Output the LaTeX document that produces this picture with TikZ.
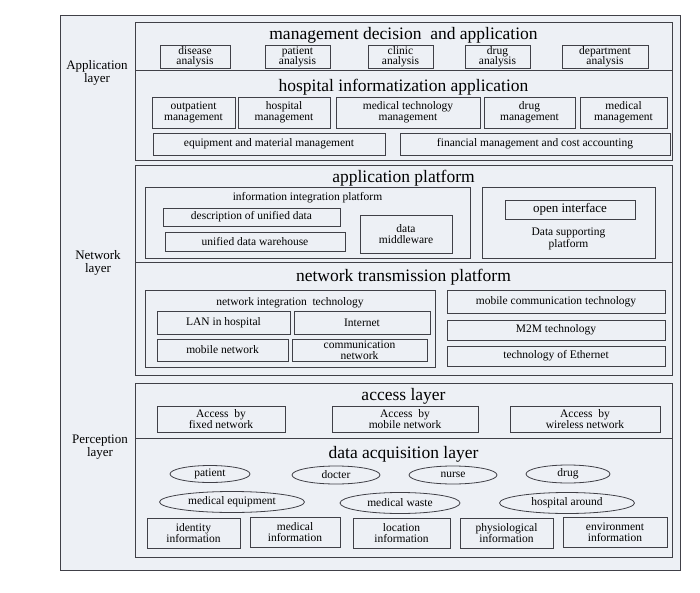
\documentclass[tikz,border=0pt]{standalone}
\usepackage{fontspec}
\setmainfont{Liberation Serif}
\usetikzlibrary{shapes.geometric, positioning, fit}
\definecolor{panelbg}{rgb}{0.93,0.94,0.96}
\definecolor{edgegray}{rgb}{0.25,0.25,0.28}

\begin{document}
\begin{tikzpicture}[x=1pt, y=-1pt,
    box/.style={rectangle, draw=edgegray, thick, inner sep=0pt, align=center, font=\fontsize{11.5}{10.5}\selectfont},
    oval/.style={ellipse, draw=edgegray, thick, inner sep=0pt, font=\fontsize{11.5}{11}\selectfont},
    band/.style={rectangle, draw=edgegray, thick, inner sep=0pt},
    title/.style={font=\fontsize{17.5}{17}\selectfont},
    sub/.style={font=\fontsize{11.5}{12}\selectfont},
    side/.style={align=center, font=\fontsize{13}{13}\selectfont}
]
\useasboundingbox (0,0) rectangle (700,593);
\draw[edgegray, fill=panelbg] (60,15) rectangle (680,570);

% application layer
\node[band, minimum width=537, minimum height=48] (mda) at (403.5,46) {};
\node[band, minimum width=537, minimum height=90] (hia) at (403.5,115) {};
\node[title] at (403.5,35) {management decision\ \ and application};
\node[box, minimum width=70, minimum height=23] (dis) at (195,57) {disease\\analysis};
\node[box, minimum width=65, minimum height=23] (pat) at (297.5,57) {patient\\analysis};
\node[box, minimum width=65, minimum height=23] (cli) at (400.5,57) {clinic\\analysis};
\node[box, minimum width=65, minimum height=23] (dru) at (497.5,57) {drug\\analysis};
\node[box, minimum width=86, minimum height=23] (dep) at (605,57) {department\\analysis};
\node[title] at (403.5,87) {hospital informatization application};
\node[box, minimum width=83, minimum height=31] (opm) at (193.5,112.5) {outpatient\\management};
\node[box, minimum width=92, minimum height=31] (hom) at (284,112.5) {hospital\\management};
\node[box, minimum width=144, minimum height=31] (mtm) at (408,112.5) {medical technology\\management};
\node[box, minimum width=91, minimum height=31] (drm) at (529.5,112.5) {drug\\management};
\node[box, minimum width=87, minimum height=31] (mem) at (623.5,112.5) {medical\\management};
\node[box, minimum width=232, minimum height=22] (eqm) at (269,144) {equipment and material management};
\node[box, minimum width=270, minimum height=22] (fin) at (535,144) {financial management and cost accounting};

% network layer
\node[band, minimum width=537, minimum height=97] (apl) at (403.5,213.5) {};
\node[band, minimum width=537, minimum height=113] (ntp) at (403.5,318.5) {};
\node[title] at (403.5,178) {application platform};
\node[band, minimum width=325, minimum height=71] (iip) at (307.5,222.5) {};
\node[sub] at (307.5,198) {information integration platform};
\node[box, minimum width=177, minimum height=18] (dud) at (251.5,217) {description of unified data};
\node[box, minimum width=180, minimum height=19] (udw) at (255,241.5) {unified data warehouse};
\node[box, minimum width=92, minimum height=38] (dmw) at (406,234) {data\\middleware};
\node[band, minimum width=173, minimum height=71] (dsp) at (568.5,222.5) {};
\node[box, minimum width=130, minimum height=19, font=\fontsize{13}{13}\selectfont] (opi) at (570,209.5) {open interface};
\node[sub, align=center] at (568.5,239) {Data supporting\\platform};
\node[title] at (403.5,277) {network transmission platform};
\node[band, minimum width=290, minimum height=77] (nit) at (290,328.5) {};
\node[sub] at (290,303) {network integration\ \ technology};
\node[box, minimum width=133, minimum height=23] (lan) at (223.5,322.5) {LAN in hospital};
\node[box, minimum width=136, minimum height=23] (int) at (362,322.5) {Internet};
\node[box, minimum width=131, minimum height=22] (mob) at (222.5,350) {mobile network};
\node[box, minimum width=135, minimum height=22] (com) at (359.5,350) {communication\\network};
\node[box, minimum width=218, minimum height=23] (mct) at (556,301.5) {mobile communication technology};
\node[box, minimum width=218, minimum height=20] (m2m) at (556,330) {M2M technology};
\node[box, minimum width=218, minimum height=20] (eth) at (556,356) {technology of Ethernet};

% perception layer
\node[band, minimum width=537, minimum height=55] (acl) at (403.5,410.5) {};
\node[band, minimum width=537, minimum height=119] (dal) at (403.5,497.5) {};
\node[title] at (403.5,396) {access layer};
\node[box, minimum width=128, minimum height=26] (fix) at (221,419) {Access\ \ by\\fixed network};
\node[box, minimum width=146, minimum height=26] (mbn) at (405,419) {Access\ \ by\\mobile network};
\node[box, minimum width=150, minimum height=26] (wln) at (585,419) {Access\ \ by\\wireless network};
\node[title] at (403.5,454) {data acquisition layer};
\node[oval, minimum width=80, minimum height=17] (ptn) at (210,474) {patient};
\node[oval, minimum width=88, minimum height=18] (doc) at (336,475) {docter};
\node[oval, minimum width=88, minimum height=18] (nur) at (453,475) {nurse};
\node[oval, minimum width=84, minimum height=18] (drg) at (568,474) {drug};
\node[oval, minimum width=145, minimum height=21] (meq) at (232,502) {medical equipment};
\node[oval, minimum width=120, minimum height=21] (mwa) at (400,503) {medical waste};
\node[oval, minimum width=135, minimum height=21] (hsa) at (567,503) {hospital around};
\node[box, minimum width=93, minimum height=30] (idi) at (193.5,533) {identity\\information};
\node[box, minimum width=90, minimum height=30] (mdi) at (295,532) {medical\\information};
\node[box, minimum width=97, minimum height=30] (loc) at (401.5,533) {location\\information};
\node[box, minimum width=93, minimum height=30] (phy) at (506.5,533) {physiological\\information};
\node[box, minimum width=104, minimum height=30] (env) at (615,532) {environment\\information};

% side labels
\node[side] (lapp) at (97,73) {Application\\layer};
\node[side] (lnet) at (98,263) {Network\\layer};
\node[side] (lper) at (100,447) {Perception\\layer};
\end{tikzpicture}
\end{document}
